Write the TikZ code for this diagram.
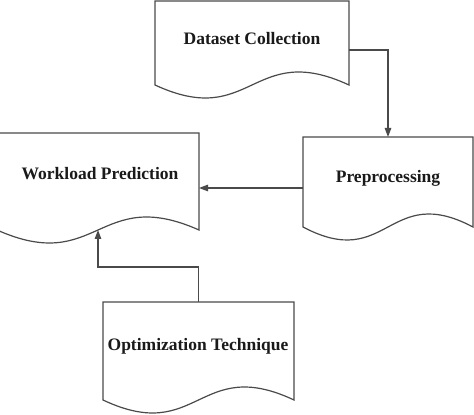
\documentclass[tikz,border=0pt]{standalone}
\usepackage{fontspec}
\setmainfont{Liberation Serif}
\usetikzlibrary{calc,arrows.meta}
\definecolor{linegray}{HTML}{4A4A4A}
\definecolor{txt}{HTML}{1A1A1A}
\tikzset{
  box/.style={draw=none, inner sep=0pt, outer sep=0pt, rectangle},
  doc/.style={draw=linegray, line width=1.2pt, fill=white},
  lbl/.style={font=\bfseries\fontsize{17.5}{20}\selectfont, text=txt, inner sep=0pt},
  arr/.style={draw=linegray, line width=1.2pt, -{Triangle[length=9pt,width=6.5pt]}},
}
\newcommand{\docshape}[1]{%
  \draw[doc] (#1.north west) -- (#1.north east) -- (#1.south east)
    .. controls ($(#1.south)+(0,45)$) and ($(#1.south)+(0,-45)$) .. (#1.south west) -- cycle;}
\begin{document}
\begin{tikzpicture}[x=1pt,y=1pt]
\useasboundingbox (0,0) rectangle (474,415);
% boxes
\node[box, minimum width=194pt, minimum height=84pt] (dc) at (252,372) {};
\node[box, minimum width=170pt, minimum height=90pt] (pp) at (388,233) {};
\node[box, minimum width=202pt, minimum height=97pt] (wp) at (98,233.5) {};
\node[box, minimum width=191pt, minimum height=98pt] (op) at (198.5,64) {};
\docshape{dc}
\docshape{pp}
\docshape{wp}
\docshape{op}
% labels
\node[lbl] (dct) at (252,376) {Dataset Collection};
\node[lbl] (ppt) at (388,237) {Preprocessing};
\node[lbl] (wpt) at (100,241) {Workload Prediction};
\node[lbl] (opt) at (198,69) {Optimization Technique};
% connectors
\draw[arr] ([yshift=-7pt]dc.east) -| (pp.north);
\draw[arr] ([yshift=-6pt]pp.west) -- ([yshift=-6pt]pp.west -| wp.east);
\draw[arr] (op.north) -- ++(0,35) -| (wp.south);
\end{tikzpicture}
\end{document}
